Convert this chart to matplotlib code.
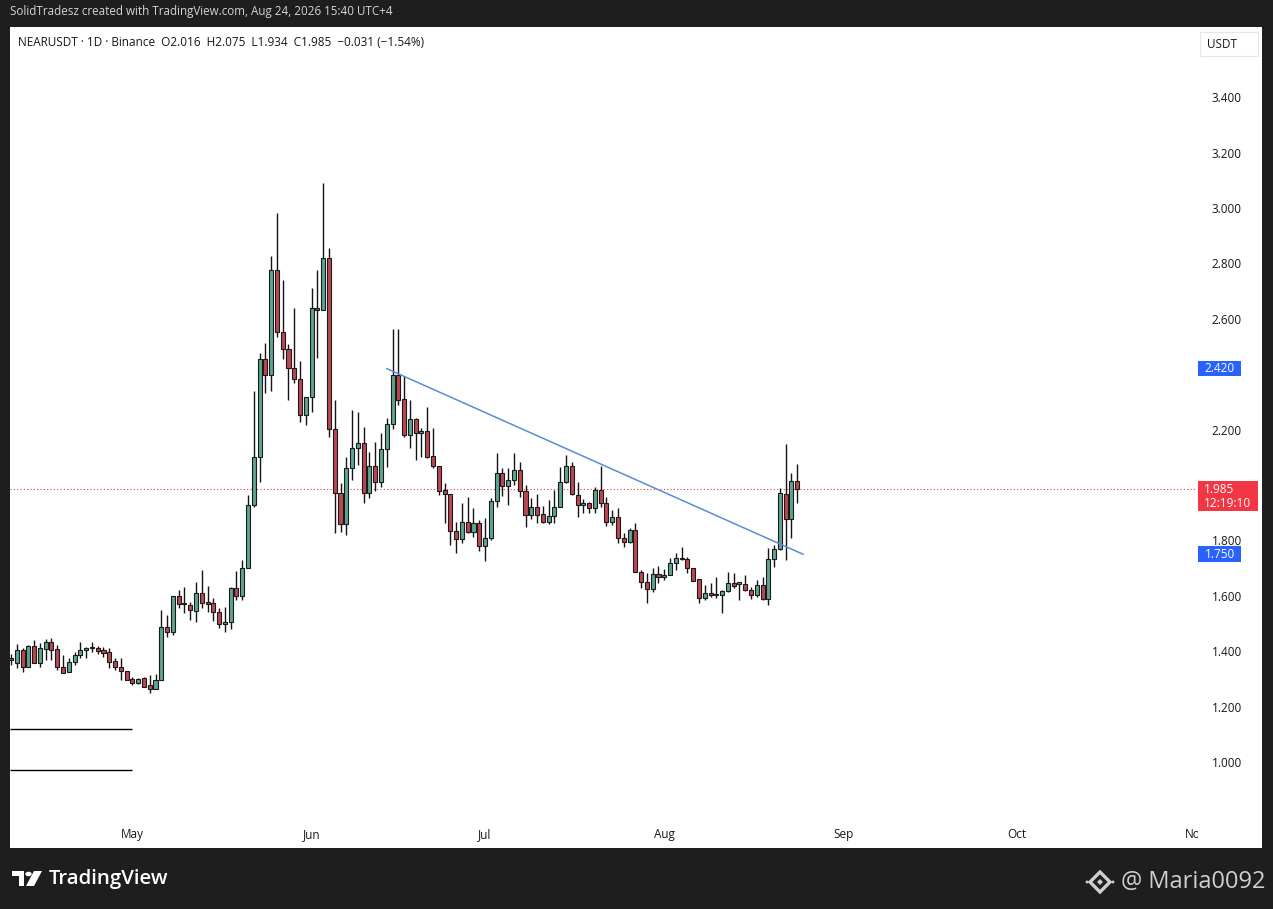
import numpy as np
import pandas as pd
import matplotlib
matplotlib.use("Agg")
import matplotlib.pyplot as plt
import matplotlib.dates as mdates
from matplotlib.patches import Rectangle, Polygon, Circle
from matplotlib.transforms import blended_transform_factory, Bbox, TransformedBbox

plt.rcParams['font.family'] = ['Open Sans', 'DejaVu Sans']

# daily NEARUSDT candles, Apr 10 -> Aug 24
start = "2026-04-10"
opens = [1.375, 1.357, 1.404, 1.343, 1.419, 1.357, 1.408, 1.433, 1.408, 1.343,
         1.325, 1.361, 1.386, 1.404, 1.410, 1.410, 1.404, 1.397, 1.365, 1.343,
         1.328, 1.300, 1.285, 1.303, 1.278, 1.264, 1.296, 1.487, 1.469, 1.599,
         1.572, 1.567, 1.545, 1.610, 1.574, 1.574, 1.542, 1.498, 1.505, 1.628,
         1.599, 1.700, 1.928, 2.101, 2.455, 2.397, 2.776, 2.552, 2.491, 2.422,
         2.383, 2.253, 2.318, 2.639, 2.632, 2.819, 2.202, 1.971, 1.859, 2.061,
         2.134, 2.152, 1.971, 2.069, 2.011, 2.130, 2.220, 2.397, 2.310, 2.181,
         2.238, 2.188, 2.195, 2.105, 2.069, 1.982, 1.968, 1.834, 1.805, 1.866,
         1.830, 1.863, 1.780, 1.809, 1.942, 2.043, 1.996, 2.018, 2.054, 1.978,
         1.892, 1.921, 1.895, 1.866, 1.888, 1.921, 2.011, 2.069, 1.964, 1.928,
         1.935, 1.917, 1.982, 1.935, 1.866, 1.884, 1.809, 1.794, 1.838, 1.686,
         1.650, 1.625, 1.679, 1.668, 1.675, 1.718, 1.737, 1.733, 1.700, 1.661,
         1.592, 1.610, 1.603, 1.603, 1.617, 1.646, 1.643, 1.643, 1.621, 1.603,
         1.639, 1.588, 1.733, 1.769, 1.968, 1.877, 2.016]
highs = [1.390, 1.426, 1.410, 1.422, 1.440, 1.430, 1.444, 1.448, 1.422, 1.386,
         1.375, 1.397, 1.433, 1.415, 1.433, 1.420, 1.415, 1.410, 1.375, 1.375,
         1.328, 1.307, 1.303, 1.307, 1.314, 1.318, 1.549, 1.531, 1.599, 1.621,
         1.632, 1.578, 1.650, 1.693, 1.635, 1.592, 1.556, 1.560, 1.632, 1.690,
         1.729, 1.964, 2.339, 2.477, 2.513, 2.827, 2.982, 2.740, 2.509, 2.639,
         2.448, 2.318, 2.711, 2.776, 3.090, 2.856, 2.307, 2.007, 2.101, 2.271,
         2.264, 2.209, 2.119, 2.155, 2.188, 2.242, 2.563, 2.563, 2.394, 2.307,
         2.242, 2.206, 2.282, 2.206, 2.069, 2.007, 1.968, 1.866, 1.935, 1.957,
         1.917, 1.874, 1.881, 1.953, 2.116, 2.061, 2.061, 2.116, 2.083, 2.000,
         1.953, 1.968, 1.924, 1.946, 1.982, 2.065, 2.108, 2.083, 2.011, 1.949,
         1.939, 1.993, 2.069, 1.957, 1.910, 1.917, 1.827, 1.845, 1.863, 1.693,
         1.682, 1.700, 1.708, 1.697, 1.736, 1.755, 1.776, 1.740, 1.700, 1.661,
         1.639, 1.646, 1.668, 1.621, 1.686, 1.682, 1.646, 1.675, 1.632, 1.657,
         1.668, 1.773, 1.783, 1.989, 2.148, 2.043, 2.075]
lows = [1.350, 1.339, 1.325, 1.343, 1.357, 1.343, 1.368, 1.368, 1.332, 1.321,
        1.325, 1.350, 1.375, 1.375, 1.397, 1.390, 1.379, 1.339, 1.332, 1.296,
        1.296, 1.278, 1.282, 1.271, 1.249, 1.264, 1.296, 1.451, 1.458, 1.556,
        1.538, 1.513, 1.505, 1.556, 1.542, 1.509, 1.484, 1.469, 1.480, 1.585,
        1.585, 1.700, 1.921, 2.011, 2.332, 2.339, 2.534, 2.455, 2.307, 2.368,
        2.227, 2.217, 2.264, 2.458, 2.632, 2.173, 1.827, 1.830, 1.819, 2.018,
        2.072, 1.935, 1.953, 1.978, 1.993, 2.065, 2.202, 2.289, 2.173, 2.134,
        2.090, 2.101, 2.097, 2.061, 1.964, 1.863, 1.783, 1.755, 1.791, 1.827,
        1.812, 1.762, 1.726, 1.801, 1.921, 1.960, 1.928, 2.000, 1.957, 1.848,
        1.877, 1.863, 1.863, 1.859, 1.863, 1.921, 2.007, 1.964, 1.884, 1.899,
        1.899, 1.899, 1.921, 1.852, 1.856, 1.791, 1.776, 1.791, 1.686, 1.628,
        1.574, 1.614, 1.646, 1.657, 1.675, 1.693, 1.729, 1.682, 1.653, 1.574,
        1.585, 1.596, 1.592, 1.538, 1.614, 1.628, 1.585, 1.617, 1.588, 1.596,
        1.585, 1.567, 1.704, 1.765, 1.729, 1.809, 1.934]
closes = [1.368, 1.404, 1.343, 1.419, 1.357, 1.410, 1.433, 1.404, 1.343, 1.321,
          1.361, 1.386, 1.404, 1.410, 1.410, 1.400, 1.393, 1.361, 1.343, 1.328,
          1.296, 1.285, 1.300, 1.271, 1.264, 1.296, 1.487, 1.469, 1.599, 1.570,
          1.570, 1.549, 1.610, 1.574, 1.572, 1.542, 1.498, 1.505, 1.628, 1.599,
          1.700, 1.928, 2.101, 2.455, 2.397, 2.776, 2.552, 2.491, 2.422, 2.383,
          2.253, 2.318, 2.639, 2.632, 2.819, 2.202, 1.971, 1.859, 2.061, 2.134,
          2.152, 1.971, 2.069, 2.011, 2.130, 2.220, 2.397, 2.307, 2.181, 2.238,
          2.188, 2.195, 2.101, 2.069, 1.978, 1.968, 1.834, 1.805, 1.866, 1.830,
          1.863, 1.780, 1.809, 1.942, 2.043, 1.996, 2.018, 2.054, 1.978, 1.892,
          1.921, 1.892, 1.866, 1.888, 1.921, 2.011, 2.069, 1.968, 1.928, 1.935,
          1.917, 1.982, 1.935, 1.866, 1.884, 1.809, 1.794, 1.838, 1.686, 1.650,
          1.625, 1.679, 1.668, 1.675, 1.718, 1.736, 1.733, 1.700, 1.653, 1.592,
          1.610, 1.603, 1.603, 1.617, 1.646, 1.635, 1.643, 1.621, 1.603, 1.639,
          1.588, 1.733, 1.769, 1.971, 1.877, 2.014, 1.985]

# trendline and drawing levels
trend_dates = ["2026-06-14", "2026-08-25"]
trend_prices = [2.420, 1.750]
box_levels = [1.119, 0.971]
box_end = "2026-05-01"
last_price = 1.985
y_ticks = [1.0, 1.2, 1.4, 1.6, 1.8, 2.0, 2.2, 2.4, 2.6, 2.8, 3.0, 3.2, 3.4]
hidden_ticks = [2.0, 2.4]   # covered by the price labels
months = ["2026-05-01", "2026-06-01", "2026-07-01", "2026-08-01", "2026-09-01", "2026-10-01"]
month_labels = ["May", "Jun", "Jul", "Aug", "Sep", "Oct"]

W, H = 1273, 909
BG = '#1e1e1e'
GREEN = '#5ea491'
RED = '#bb4750'

def fx(px):
    return px / W

def fy(py):
    return 1 - py / H

fig = plt.figure(figsize=(W / 100, H / 100), dpi=100, facecolor=BG)

# white chart panel
fig.patches.append(Rectangle((fx(10), fy(848)), fx(1262) - fx(10), fy(27) - fy(848),
                             transform=fig.transFigure, facecolor='white', edgecolor='none', zorder=-5))

ax = fig.add_axes([fx(10), fy(818), fx(1195) - fx(10), fy(27) - fy(818)])
ax.set_zorder(1)
ax.set_facecolor('white')
for s in ax.spines.values():
    s.set_visible(False)

dates = pd.date_range(start, periods=len(opens))
x = mdates.date2num(dates)
o = np.array(opens); h = np.array(highs); l = np.array(lows); c = np.array(closes)
up = c >= o
cols = np.where(up, GREEN, RED)

ax.vlines(x, l, h, color='#141414', lw=1.0, zorder=2)
ax.bar(x, np.maximum(np.abs(c - o), 0.005), bottom=np.minimum(o, c), width=0.7,
       color=cols, edgecolor='#1a1a1a', linewidth=0.8, zorder=3)

d0 = x[0]
ax.set_xlim(d0 - 0.17, d0 + 204.8)
ax.set_ylim(0.7978, 3.6534)

# trendline
tx = mdates.date2num(pd.to_datetime(trend_dates))
ax.plot(tx, trend_prices, color='#5b8cd2', lw=1.1, zorder=4)

# dotted last price line
ax.axhline(last_price, color='#f23645', lw=0.8, ls=(0, (1, 2)), zorder=1)

# leftover drawing lines bottom left
ax.hlines(box_levels, d0 - 0.17, mdates.date2num(pd.Timestamp(box_end)), color='black', lw=1.0)

# axes ticks
ax.set_xticks(mdates.date2num(pd.to_datetime(months)))
ax.set_xticklabels(month_labels)
ax.yaxis.tick_right()
ax.set_yticks(y_ticks)
ax.set_yticklabels(["" if v in hidden_ticks else f"{v:.3f}" for v in y_ticks])
ax.tick_params(axis='x', length=0, pad=7.5, labelsize=8.5, labelcolor='#131722')
ax.tick_params(axis='y', length=0, pad=12, labelsize=8.5, labelcolor='#131722')

# clipped "Nov"
bt = blended_transform_factory(ax.transData, ax.transAxes)
nov = ax.text(mdates.date2num(pd.Timestamp("2026-11-01")), -0.0205, "Nov", transform=bt,
              ha='center', va='center', fontsize=8.5, color='#131722')
nov.set_clip_box(TransformedBbox(Bbox([[0, 0], [fx(1198), 1]]), fig.transFigure))
nov.set_clip_on(True)

# price labels on the scale
tr = blended_transform_factory(ax.transAxes, ax.transData)
pxp = 1 / 277.0
ax.add_patch(Rectangle((1.0025, 2.420 - 7.5 * pxp), 0.0363, 15 * pxp, transform=tr,
                       facecolor='#2962ff', edgecolor='none', clip_on=False, zorder=6))
ax.text(1.0207, 2.420, "2.420", transform=tr, ha='center', va='center', color='white',
        fontsize=8.5, zorder=7, clip_on=False)
ax.add_patch(Rectangle((1.0025, 1.750 - 8 * pxp), 0.0363, 16 * pxp, transform=tr,
                       facecolor='#2962ff', edgecolor='none', clip_on=False, zorder=6))
ax.text(1.0207, 1.750, "1.750", transform=tr, ha='center', va='center', color='white',
        fontsize=8.5, zorder=7, clip_on=False)
ax.add_patch(Rectangle((1.0025, last_price - 22 * pxp), 0.0507, 30 * pxp, transform=tr,
                       facecolor='#f23645', edgecolor='none', clip_on=False, zorder=6))
ax.text(1.0075, last_price, "1.985", transform=tr, ha='left', va='center', color='white',
        fontsize=8.5, zorder=7, clip_on=False)
ax.text(1.0075, last_price - 14 * pxp, "12:19:10", transform=tr, ha='left', va='center',
        color='white', fontsize=8.5, zorder=7, clip_on=False)

# USDT box
fig.patches.append(Rectangle((fx(1200), fy(56)), fx(1258) - fx(1200), fy(32) - fy(56),
                             transform=fig.transFigure, facecolor='white', edgecolor='#e6e6e6', lw=0.8,
                             zorder=2))
fig.text(fx(1222), fy(44), "USDT", ha='center', va='center', fontsize=8.5, color='#131722', zorder=3)

# header texts
fig.text(fx(10), fy(12), "SolidTradesz created with TradingView.com, Aug 24, 2026 15:40 UTC+4",
         ha='left', va='center', fontsize=8.4, color='#d4d4d4')
fig.text(fx(18), fy(42), "NEARUSDT \u00b7 1D \u00b7 Binance  O2.016  H2.075  L1.934  C1.985  \u22120.031 (\u22121.54%)",
         ha='left', va='center', fontsize=8.5, color='#131722', zorder=3)

# TradingView logo
fig.patches.append(Polygon([(fx(12), fy(871)), (fx(24), fy(871)), (fx(24), fy(886)), (fx(19), fy(886)),
                            (fx(19), fy(876)), (fx(12), fy(876))], closed=True,
                           transform=fig.transFigure, facecolor='white', edgecolor='none'))
fig.patches.append(Circle((fx(28.5), fy(874)), 3.2 / W, transform=fig.transFigure,
                          facecolor='white', edgecolor='none'))
fig.patches.append(Polygon([(fx(34), fy(871)), (fx(42), fy(871)), (fx(34), fy(886)), (fx(26), fy(886))],
                           closed=True, transform=fig.transFigure, facecolor='white', edgecolor='none'))
fig.text(fx(49), fy(879), "TradingView", ha='left', va='center', fontsize=14.7,
         fontweight='semibold', color='white')

# watermark
cxp, cyp = 1100, 882
def diamond(cx, cy, r, **kw):
    return Polygon([(fx(cx - r), fy(cy)), (fx(cx), fy(cy - r)), (fx(cx + r), fy(cy)), (fx(cx), fy(cy + r))],
                   closed=True, transform=fig.transFigure, **kw)
fig.patches.append(diamond(cxp, cyp, 10, facecolor='none', edgecolor='#cfcfcf', lw=2.4))
fig.patches.append(diamond(cxp, cyp, 3, facecolor='#cfcfcf', edgecolor='none'))
fig.patches.append(diamond(cxp - 13, cyp, 1.8, facecolor='#cfcfcf', edgecolor='none'))
fig.patches.append(diamond(cxp + 13, cyp, 1.8, facecolor='#cfcfcf', edgecolor='none'))
fig.text(fx(1265), fy(882), "@ Maria0092", ha='right', va='center', fontsize=17, color='#cfcfcf')

fig.savefig("out.png", dpi=100, facecolor=BG)
